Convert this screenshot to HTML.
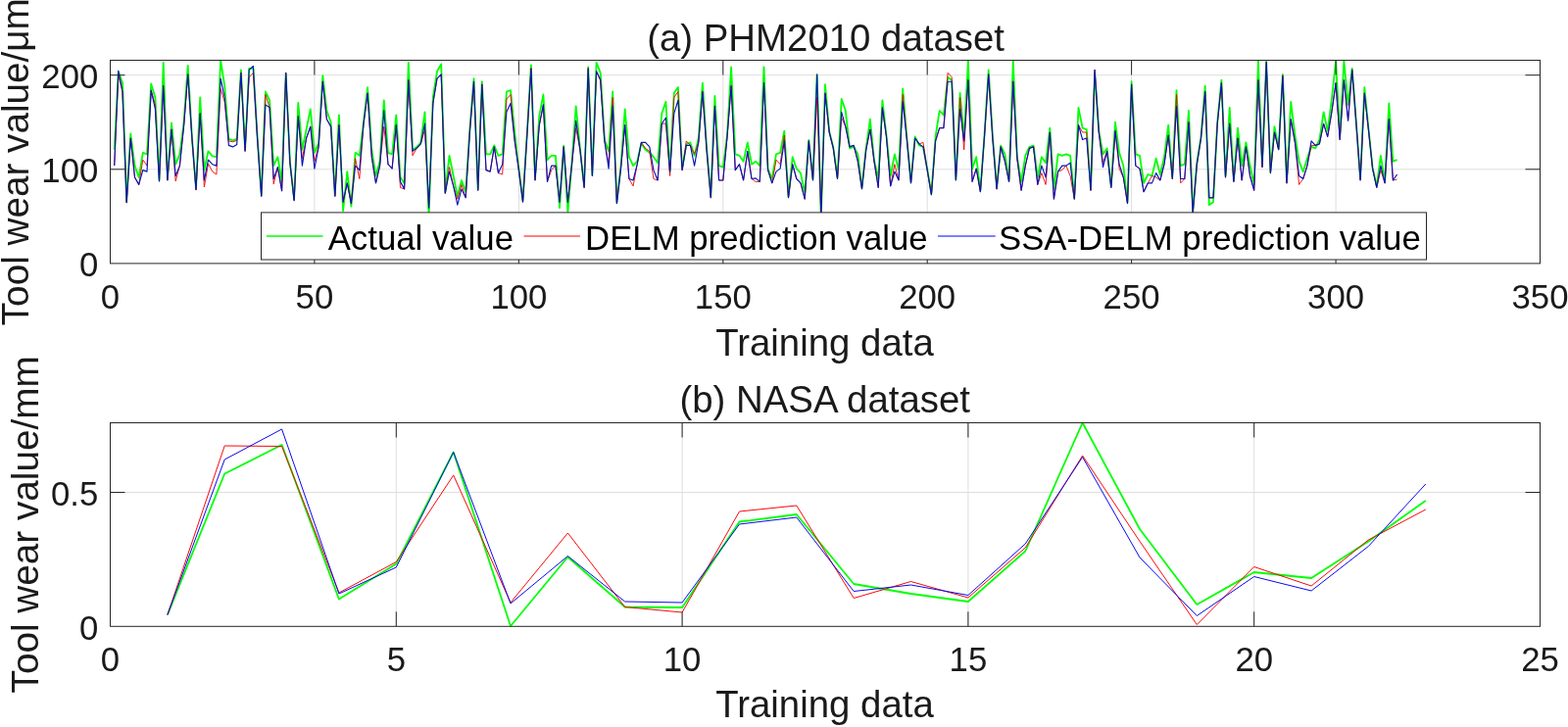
<!DOCTYPE html>
<html lang="en"><head><meta charset="utf-8"><title>Tool wear prediction</title>
<style>html,body{margin:0;padding:0;background:#fff;}body{width:1600px;height:742px;overflow:hidden;}svg{display:block;}text{font-family:"Liberation Sans",Arial,sans-serif;fill:#1a1a1a;}.t{font-size:34.75px}.l{font-size:38.4px}.k{fill:#000}.y{font-size:38.7px}</style></head><body>
<svg width="1600" height="742" viewBox="0 0 1600 742">
<rect width="1600" height="742" fill="#fff"/>
<defs><clipPath id="ct"><rect x="112.5" y="61.5" width="1459.0" height="207.39999999999998"/></clipPath><clipPath id="cb"><rect x="112.5" y="431.0" width="1459.0" height="208.79999999999995"/></clipPath></defs>
<line x1="320.9" y1="61.5" x2="320.9" y2="268.9" stroke="#dedede" stroke-width="1"/>
<line x1="529.4" y1="61.5" x2="529.4" y2="268.9" stroke="#dedede" stroke-width="1"/>
<line x1="737.8" y1="61.5" x2="737.8" y2="268.9" stroke="#dedede" stroke-width="1"/>
<line x1="946.2" y1="61.5" x2="946.2" y2="268.9" stroke="#dedede" stroke-width="1"/>
<line x1="1154.6" y1="61.5" x2="1154.6" y2="268.9" stroke="#dedede" stroke-width="1"/>
<line x1="1363.1" y1="61.5" x2="1363.1" y2="268.9" stroke="#dedede" stroke-width="1"/>
<line x1="112.5" y1="172.8" x2="1571.5" y2="172.8" stroke="#dedede" stroke-width="1"/>
<line x1="112.5" y1="76.7" x2="1571.5" y2="76.7" stroke="#dedede" stroke-width="1"/>
<polyline clip-path="url(#ct)" fill="none" stroke="#00ff00" stroke-width="1.8" stroke-linejoin="round" points="116.7,152.8 120.8,73.4 125.0,84.6 129.2,205.6 133.3,136.5 137.5,169.1 141.7,181.0 145.8,155.8 150.0,157.3 154.2,85.5 158.4,99.5 162.5,183.7 166.7,63.9 170.9,182.8 175.0,125.3 179.2,167.7 183.4,157.3 187.5,126.2 191.7,66.9 195.9,139.8 200.0,192.6 204.2,99.5 208.4,173.6 212.5,154.3 216.7,159.4 220.9,160.2 225.1,61.5 229.2,87.6 233.4,141.9 237.6,143.3 241.7,141.9 245.9,71.3 250.1,152.8 254.2,69.8 258.4,69.8 262.6,139.8 266.7,199.1 270.9,93.5 275.1,102.4 279.2,169.1 283.4,160.2 287.6,185.4 291.7,75.2 295.9,165.0 300.1,203.5 304.3,104.8 308.4,152.8 312.6,132.1 316.8,111.3 320.9,155.8 325.1,146.3 329.3,77.2 333.4,112.8 337.6,124.7 341.8,199.1 345.9,117.3 350.1,215.1 354.3,175.1 358.4,210.6 362.6,155.8 366.8,158.8 371.0,124.7 375.1,89.1 379.3,152.8 383.5,179.5 387.6,164.7 391.8,102.4 396.0,155.8 400.1,157.3 404.3,117.3 408.5,181.0 412.6,186.9 416.8,63.9 421.0,153.1 425.1,150.2 429.3,145.7 433.5,114.3 437.6,221.0 441.8,99.5 446.0,72.8 450.2,65.4 454.3,196.1 458.5,158.8 462.7,179.5 466.8,200.3 471.0,184.0 475.2,195.8 479.3,133.9 483.5,80.2 487.7,193.2 491.8,83.2 496.0,157.3 500.2,157.3 504.3,148.4 508.5,158.8 512.7,157.3 516.9,93.5 521.0,92.1 525.2,135.0 529.4,172.4 533.5,205.0 537.7,138.3 541.9,66.3 546.0,182.8 550.2,118.7 554.4,96.5 558.5,163.2 562.7,158.8 566.9,158.8 571.0,212.1 575.2,148.7 579.4,216.6 583.5,166.5 587.7,108.4 591.9,151.6 596.1,190.2 600.2,68.3 604.4,178.3 608.6,63.9 612.7,74.3 616.9,142.8 621.1,154.3 625.2,93.5 629.4,206.5 633.6,169.4 637.7,111.3 641.9,160.2 646.1,169.1 650.2,164.7 654.4,146.3 658.6,152.8 662.8,155.8 666.9,160.2 671.1,166.2 675.3,115.8 679.4,103.9 683.6,173.9 687.8,95.0 691.9,89.1 696.1,172.4 700.3,147.2 704.4,145.4 708.6,158.8 712.8,141.0 716.9,84.6 721.1,151.6 725.3,200.6 729.4,98.0 733.6,169.1 737.8,170.6 742.0,138.3 746.1,68.3 750.3,157.3 754.5,158.8 758.6,164.7 762.8,145.4 767.0,167.7 771.1,164.7 775.3,169.1 779.5,68.3 783.6,172.4 787.8,182.5 792.0,157.3 796.1,155.8 800.3,133.6 804.5,200.6 808.7,160.2 812.8,172.1 817.0,176.6 821.2,197.3 825.3,142.8 829.5,182.8 833.7,76.3 837.8,222.8 842.0,86.1 846.2,133.9 850.3,150.2 854.5,181.3 858.7,101.0 862.8,112.8 867.0,151.4 871.2,149.9 875.3,157.3 879.5,191.7 883.7,151.6 887.9,121.7 892.0,163.5 896.2,182.5 900.4,102.4 904.5,138.3 908.7,179.5 912.9,157.3 917.0,173.6 921.2,90.6 925.4,141.3 929.5,185.7 933.7,139.5 937.9,148.4 942.0,149.9 946.2,172.4 950.4,197.6 954.6,139.5 958.7,112.8 962.9,117.3 967.1,78.7 971.2,81.7 975.4,182.8 979.6,95.0 983.7,141.0 987.9,62.4 992.1,172.1 996.2,160.2 1000.4,194.6 1004.6,136.8 1008.7,71.3 1012.9,139.8 1017.1,191.7 1021.2,148.7 1025.4,157.3 1029.6,184.3 1033.8,62.4 1037.9,160.5 1042.1,185.4 1046.3,158.8 1050.4,149.9 1054.6,148.7 1058.8,181.0 1062.9,160.2 1067.1,166.2 1071.3,130.6 1075.4,192.9 1079.6,157.3 1083.8,158.8 1087.9,157.3 1092.1,158.8 1096.3,202.1 1100.5,109.8 1104.6,130.6 1108.8,132.1 1113.0,193.2 1117.1,74.3 1121.3,133.9 1125.5,157.3 1129.6,151.4 1133.8,190.2 1138.0,124.7 1142.1,155.8 1146.3,169.1 1150.5,206.5 1154.6,83.2 1158.8,157.3 1163.0,158.8 1167.1,186.9 1171.3,178.0 1175.5,179.5 1179.7,161.7 1183.8,178.0 1188.0,160.2 1192.2,127.6 1196.3,181.3 1200.5,92.1 1204.7,169.1 1208.8,167.7 1213.0,112.8 1217.2,216.3 1221.3,166.5 1225.5,139.8 1229.7,87.6 1233.8,209.2 1238.0,206.2 1242.2,125.0 1246.4,81.7 1250.5,179.8 1254.7,109.8 1258.9,184.3 1263.0,130.6 1267.2,169.1 1271.4,145.4 1275.5,169.1 1279.7,188.4 1283.9,62.4 1288.0,169.4 1292.2,62.1 1296.4,175.4 1300.5,129.1 1304.7,151.6 1308.9,76.0 1313.0,185.7 1317.2,103.9 1321.4,138.0 1325.6,164.7 1329.7,175.1 1333.9,161.7 1338.1,149.9 1342.2,151.4 1346.4,142.5 1350.6,114.3 1354.7,133.6 1358.9,101.0 1363.1,62.4 1367.2,138.0 1371.4,62.4 1375.6,106.9 1379.7,69.8 1383.9,125.0 1388.1,182.8 1392.3,89.1 1396.4,130.9 1400.6,170.9 1404.8,190.2 1408.9,158.8 1413.1,185.7 1417.3,105.4 1421.4,164.7 1425.6,163.2"/>
<polyline clip-path="url(#ct)" fill="none" stroke="#f00000" stroke-width="0.9" stroke-linejoin="round" points="116.7,169.1 120.8,77.2 125.0,93.5 129.2,206.8 133.3,141.0 137.5,181.0 141.7,188.4 145.8,163.2 150.0,169.1 154.2,92.1 158.4,106.9 162.5,184.9 166.7,87.6 170.9,184.0 175.0,132.1 179.2,184.9 183.4,169.1 187.5,129.1 191.7,75.8 195.9,141.0 200.0,193.7 204.2,115.8 208.4,190.8 212.5,167.1 216.7,175.1 220.9,178.0 225.1,90.6 229.2,103.9 233.4,143.9 237.6,144.8 241.7,143.3 245.9,74.3 250.1,154.3 254.2,78.7 258.4,74.3 262.6,141.0 266.7,200.3 270.9,96.5 275.1,109.8 279.2,187.8 283.4,170.6 287.6,194.9 291.7,74.3 295.9,166.2 300.1,204.7 304.3,118.7 308.4,161.7 312.6,141.0 316.8,129.1 320.9,164.7 325.1,149.9 329.3,83.2 333.4,121.7 337.6,129.1 341.8,200.3 345.9,127.6 350.1,206.2 354.3,186.9 358.4,207.7 362.6,161.7 366.8,182.5 371.0,126.2 375.1,95.0 379.3,160.2 383.5,186.9 387.6,169.1 391.8,129.1 396.0,167.7 400.1,172.1 404.3,127.6 408.5,191.4 412.6,192.9 416.8,81.7 421.0,158.8 425.1,151.4 429.3,146.9 433.5,132.1 437.6,212.1 441.8,105.4 446.0,80.2 450.2,75.8 454.3,197.3 458.5,170.6 462.7,189.9 466.8,203.2 471.0,188.4 475.2,201.8 479.3,135.0 483.5,83.2 487.7,194.3 491.8,86.1 496.0,173.6 500.2,175.1 504.3,149.9 508.5,176.6 512.7,178.0 516.9,101.0 521.0,96.5 525.2,143.9 529.4,173.6 533.5,206.2 537.7,139.5 541.9,69.8 546.0,184.0 550.2,128.5 554.4,106.9 558.5,185.4 562.7,173.6 566.9,169.1 571.0,206.2 575.2,149.9 579.4,206.2 583.5,167.7 587.7,130.6 591.9,152.8 596.1,191.4 600.2,69.8 604.4,179.5 608.6,72.8 612.7,81.7 616.9,143.9 621.1,167.7 625.2,99.5 629.4,207.7 633.6,170.6 637.7,127.6 641.9,182.5 646.1,189.9 650.2,167.7 654.4,145.4 658.6,151.4 662.8,154.3 666.9,182.5 671.1,184.0 675.3,126.2 679.4,126.2 683.6,179.5 687.8,99.5 691.9,93.5 696.1,173.6 700.3,143.9 704.4,148.4 708.6,157.3 712.8,145.4 716.9,93.5 721.1,152.8 725.3,201.8 729.4,108.4 733.6,184.0 737.8,184.0 742.0,139.5 746.1,87.6 750.3,173.6 754.5,167.7 758.6,184.0 762.8,154.3 767.0,182.5 771.1,185.4 775.3,185.4 779.5,84.6 783.6,173.6 787.8,186.9 792.0,163.2 796.1,167.7 800.3,138.0 804.5,201.8 808.7,167.7 812.8,182.5 817.0,186.9 821.2,203.2 825.3,143.9 829.5,184.0 833.7,99.5 837.8,219.5 842.0,95.0 846.2,135.0 850.3,151.4 854.5,182.5 858.7,120.2 862.8,129.1 867.0,149.9 871.2,148.4 875.3,164.7 879.5,192.9 883.7,152.8 887.9,132.1 892.0,164.7 896.2,191.4 900.4,109.8 904.5,139.5 908.7,189.9 912.9,167.7 917.0,184.0 921.2,96.5 925.4,142.5 929.5,186.9 933.7,141.0 937.9,146.9 942.0,145.4 946.2,173.6 950.4,198.8 954.6,143.9 958.7,130.6 962.9,130.6 967.1,74.3 971.2,78.7 975.4,184.0 979.6,99.5 983.7,152.8 987.9,81.7 992.1,185.4 996.2,172.1 1000.4,195.8 1004.6,138.0 1008.7,75.8 1012.9,141.0 1017.1,192.9 1021.2,149.9 1025.4,164.7 1029.6,185.4 1033.8,83.2 1037.9,161.7 1042.1,194.3 1046.3,169.1 1050.4,151.4 1054.6,149.9 1058.8,188.4 1062.9,176.6 1067.1,188.4 1071.3,135.0 1075.4,203.2 1079.6,175.1 1083.8,173.6 1087.9,169.1 1092.1,179.5 1096.3,203.2 1100.5,127.6 1104.6,135.0 1108.8,135.0 1113.0,194.3 1117.1,71.3 1121.3,135.0 1125.5,166.2 1129.6,154.3 1133.8,191.4 1138.0,133.6 1142.1,172.1 1146.3,181.0 1150.5,207.7 1154.6,86.1 1158.8,169.1 1163.0,172.1 1167.1,195.8 1171.3,186.9 1175.5,179.5 1179.7,181.0 1183.8,184.0 1188.0,167.7 1192.2,138.0 1196.3,182.5 1200.5,96.5 1204.7,186.9 1208.8,182.5 1213.0,124.7 1217.2,217.5 1221.3,167.7 1225.5,141.0 1229.7,93.5 1233.8,201.8 1238.0,201.8 1242.2,126.2 1246.4,84.6 1250.5,181.0 1254.7,126.2 1258.9,185.4 1263.0,141.0 1267.2,184.0 1271.4,149.9 1275.5,179.5 1279.7,194.3 1283.9,81.7 1288.0,170.6 1292.2,63.3 1296.4,176.6 1300.5,135.0 1304.7,152.8 1308.9,77.2 1313.0,186.9 1317.2,121.7 1321.4,145.4 1325.6,188.4 1329.7,182.5 1333.9,169.1 1338.1,148.4 1342.2,148.4 1346.4,146.9 1350.6,126.2 1354.7,139.5 1358.9,114.3 1363.1,84.6 1367.2,142.5 1371.4,81.7 1375.6,123.2 1379.7,71.3 1383.9,126.2 1388.1,184.0 1392.3,95.0 1396.4,132.1 1400.6,172.1 1404.8,191.4 1408.9,173.6 1413.1,186.9 1417.3,121.7 1421.4,184.0 1425.6,183.1"/>
<polyline clip-path="url(#ct)" fill="none" stroke="#0414b8" stroke-width="1.15" stroke-linejoin="round" points="116.7,169.1 120.8,72.2 125.0,93.5 129.2,206.8 133.3,141.0 137.5,181.0 141.7,188.4 145.8,173.6 150.0,175.1 154.2,92.1 158.4,111.3 162.5,184.9 166.7,87.6 170.9,184.0 175.0,132.1 179.2,179.5 183.4,169.1 187.5,129.1 191.7,75.8 195.9,141.0 200.0,193.7 204.2,115.8 208.4,184.0 212.5,163.2 216.7,167.7 220.9,169.1 225.1,80.2 229.2,99.5 233.4,148.4 237.6,149.9 241.7,147.5 245.9,74.3 250.1,154.3 254.2,71.3 258.4,67.5 262.6,141.0 266.7,200.3 270.9,106.9 275.1,109.8 279.2,182.5 283.4,170.6 287.6,194.9 291.7,74.3 295.9,166.2 300.1,204.7 304.3,118.7 308.4,169.1 312.6,141.0 316.8,129.1 320.9,172.1 325.1,149.9 329.3,83.2 333.4,121.7 337.6,129.1 341.8,200.3 345.9,127.6 350.1,206.2 354.3,186.9 358.4,207.7 362.6,169.1 366.8,173.6 371.0,126.2 375.1,95.0 379.3,160.2 383.5,186.9 387.6,169.1 391.8,112.8 396.0,167.7 400.1,172.1 404.3,127.6 408.5,185.4 412.6,192.9 416.8,81.7 421.0,154.3 425.1,151.4 429.3,146.9 433.5,126.2 437.6,212.1 441.8,105.4 446.0,80.2 450.2,75.8 454.3,197.3 458.5,175.1 462.7,189.9 466.8,209.2 471.0,192.9 475.2,201.8 479.3,135.0 483.5,83.2 487.7,194.3 491.8,86.1 496.0,173.6 500.2,175.1 504.3,149.9 508.5,176.6 512.7,167.7 516.9,114.3 521.0,105.4 525.2,143.9 529.4,173.6 533.5,206.2 537.7,139.5 541.9,69.8 546.0,184.0 550.2,128.5 554.4,106.9 558.5,185.4 562.7,169.1 566.9,169.1 571.0,206.2 575.2,149.9 579.4,206.2 583.5,167.7 587.7,123.2 591.9,152.8 596.1,191.4 600.2,69.8 604.4,179.5 608.6,72.8 612.7,81.7 616.9,143.9 621.1,172.1 625.2,108.4 629.4,207.7 633.6,170.6 637.7,127.6 641.9,182.5 646.1,184.0 650.2,167.7 654.4,145.4 658.6,145.4 662.8,149.9 666.9,173.6 671.1,184.0 675.3,126.2 679.4,120.2 683.6,175.1 687.8,115.8 691.9,102.4 696.1,173.6 700.3,148.4 704.4,148.4 708.6,169.1 712.8,145.4 716.9,93.5 721.1,152.8 725.3,201.8 729.4,108.4 733.6,184.0 737.8,184.0 742.0,139.5 746.1,87.6 750.3,173.6 754.5,167.7 758.6,184.0 762.8,154.3 767.0,182.5 771.1,181.9 775.3,185.4 779.5,84.6 783.6,173.6 787.8,186.9 792.0,175.1 796.1,172.1 800.3,143.9 804.5,201.8 808.7,167.7 812.8,182.5 817.0,186.9 821.2,203.2 825.3,143.9 829.5,184.0 833.7,75.8 837.8,219.5 842.0,95.0 846.2,135.0 850.3,151.4 854.5,182.5 858.7,114.3 862.8,129.1 867.0,149.9 871.2,148.4 875.3,164.7 879.5,192.9 883.7,152.8 887.9,132.1 892.0,164.7 896.2,191.4 900.4,109.8 904.5,139.5 908.7,189.9 912.9,175.1 917.0,184.0 921.2,103.9 925.4,142.5 929.5,186.9 933.7,141.0 937.9,146.9 942.0,149.9 946.2,173.6 950.4,198.8 954.6,143.9 958.7,130.6 962.9,130.6 967.1,83.2 971.2,83.2 975.4,184.0 979.6,111.3 983.7,143.9 987.9,81.7 992.1,185.4 996.2,172.1 1000.4,195.8 1004.6,138.0 1008.7,75.8 1012.9,141.0 1017.1,192.9 1021.2,149.9 1025.4,164.7 1029.6,185.4 1033.8,83.2 1037.9,161.7 1042.1,194.3 1046.3,169.1 1050.4,151.4 1054.6,149.9 1058.8,188.4 1062.9,169.1 1067.1,181.0 1071.3,135.0 1075.4,203.2 1079.6,175.1 1083.8,169.1 1087.9,169.1 1092.1,166.2 1096.3,203.2 1100.5,127.6 1104.6,142.5 1108.8,141.0 1113.0,194.3 1117.1,71.3 1121.3,135.0 1125.5,170.6 1129.6,154.3 1133.8,191.4 1138.0,133.6 1142.1,167.7 1146.3,181.0 1150.5,207.7 1154.6,86.1 1158.8,169.1 1163.0,172.1 1167.1,195.8 1171.3,186.9 1175.5,186.9 1179.7,176.6 1183.8,184.0 1188.0,167.7 1192.2,138.0 1196.3,182.5 1200.5,108.4 1204.7,182.5 1208.8,182.5 1213.0,124.7 1217.2,217.5 1221.3,167.7 1225.5,141.0 1229.7,93.5 1233.8,201.8 1238.0,201.8 1242.2,126.2 1246.4,84.6 1250.5,181.0 1254.7,126.2 1258.9,185.4 1263.0,141.0 1267.2,184.0 1271.4,149.9 1275.5,179.5 1279.7,194.3 1283.9,81.7 1288.0,170.6 1292.2,63.3 1296.4,176.6 1300.5,135.0 1304.7,152.8 1308.9,77.2 1313.0,186.9 1317.2,121.7 1321.4,145.4 1325.6,179.5 1329.7,182.5 1333.9,169.1 1338.1,143.9 1342.2,148.4 1346.4,146.9 1350.6,126.2 1354.7,139.5 1358.9,114.3 1363.1,84.6 1367.2,142.5 1371.4,81.7 1375.6,123.2 1379.7,71.3 1383.9,126.2 1388.1,184.0 1392.3,95.0 1396.4,132.1 1400.6,172.1 1404.8,191.4 1408.9,169.1 1413.1,186.9 1417.3,121.7 1421.4,184.0 1425.6,178.0"/>
<rect x="112.5" y="61.5" width="1459.0" height="207.39999999999998" fill="none" stroke="#262626" stroke-width="1"/>
<path d="M320.9 268.9 v-15 M320.9 61.5 v15" stroke="#262626" stroke-width="1" fill="none"/>
<path d="M529.4 268.9 v-15 M529.4 61.5 v15" stroke="#262626" stroke-width="1" fill="none"/>
<path d="M737.8 268.9 v-15 M737.8 61.5 v15" stroke="#262626" stroke-width="1" fill="none"/>
<path d="M946.2 268.9 v-15 M946.2 61.5 v15" stroke="#262626" stroke-width="1" fill="none"/>
<path d="M1154.6 268.9 v-15 M1154.6 61.5 v15" stroke="#262626" stroke-width="1" fill="none"/>
<path d="M1363.1 268.9 v-15 M1363.1 61.5 v15" stroke="#262626" stroke-width="1" fill="none"/>
<path d="M112.5 172.8 h15 M1571.5 172.8 h-15" stroke="#262626" stroke-width="1" fill="none"/>
<path d="M112.5 76.7 h15 M1571.5 76.7 h-15" stroke="#262626" stroke-width="1" fill="none"/>
<rect x="266.5" y="216.9" width="1189.0" height="48.099999999999994" fill="#fff" stroke="#262626" stroke-width="1"/>
<line x1="272" y1="241" x2="329.5" y2="241" stroke="#00ff00" stroke-width="1.7"/>
<text class="t k" x="334.7" y="254.7">Actual value</text>
<line x1="534.5" y1="241" x2="592" y2="241" stroke="#ff0000" stroke-width="1.1"/>
<text class="t k" x="597.1" y="254.7">DELM prediction value</text>
<line x1="957" y1="241" x2="1015.7" y2="241" stroke="#0000ff" stroke-width="1.1"/>
<text class="t k" x="1019" y="254.7">SSA-DELM prediction value</text>
<text class="t" text-anchor="middle" transform="translate(112.5 315) scale(1 1.025)">0</text>
<text class="t" text-anchor="middle" transform="translate(320.9 315) scale(1 1.025)">50</text>
<text class="t" text-anchor="middle" transform="translate(529.4 315) scale(1 1.025)">100</text>
<text class="t" text-anchor="middle" transform="translate(737.8 315) scale(1 1.025)">150</text>
<text class="t" text-anchor="middle" transform="translate(946.2 315) scale(1 1.025)">200</text>
<text class="t" text-anchor="middle" transform="translate(1154.6 315) scale(1 1.025)">250</text>
<text class="t" text-anchor="middle" transform="translate(1363.1 315) scale(1 1.025)">300</text>
<text class="t" text-anchor="middle" transform="translate(1571.5 315) scale(1 1.025)">350</text>
<text class="t" text-anchor="end" transform="translate(100.3 282.2) scale(1 1.025)">0</text>
<text class="t" text-anchor="end" transform="translate(100.3 186.1) scale(1 1.025)">100</text>
<text class="t" text-anchor="end" transform="translate(100.3 90.0) scale(1 1.025)">200</text>
<text class="l" text-anchor="middle" x="842.6" y="51.5">(a) PHM2010 dataset</text>
<text class="l" text-anchor="middle" x="841.5" y="362.5">Training data</text>
<text class="l y" text-anchor="middle" transform="translate(29 165.2) rotate(-90)">Tool wear value/μm</text>
<line x1="404.3" y1="431.5" x2="404.3" y2="639.3" stroke="#dedede" stroke-width="1"/>
<line x1="696.1" y1="431.5" x2="696.1" y2="639.3" stroke="#dedede" stroke-width="1"/>
<line x1="987.9" y1="431.5" x2="987.9" y2="639.3" stroke="#dedede" stroke-width="1"/>
<line x1="1279.7" y1="431.5" x2="1279.7" y2="639.3" stroke="#dedede" stroke-width="1"/>
<line x1="112.5" y1="502.5" x2="1571.5" y2="502.5" stroke="#dedede" stroke-width="1"/>
<polyline clip-path="url(#cb)" fill="none" stroke="#00ff00" stroke-width="1.8" stroke-linejoin="round" points="170.9,627.5 229.2,483.5 287.6,454.0 345.9,611.5 404.3,575.5 462.7,461.5 521.0,639.0 579.4,568.5 637.7,619.5 696.1,620.0 754.5,532.5 812.8,525.0 871.2,596.0 929.5,606.0 987.9,614.0 1046.3,562.5 1104.6,431.5 1163.0,540.0 1221.3,617.0 1279.7,584.0 1338.1,590.0 1396.4,552.5 1454.8,511.0"/>
<polyline clip-path="url(#cb)" fill="none" stroke="#f80808" stroke-width="1.0" stroke-linejoin="round" points="170.9,627.5 229.2,455.0 287.6,455.5 345.9,605.0 404.3,573.5 462.7,485.0 521.0,615.0 579.4,544.0 637.7,619.5 696.1,625.0 754.5,522.0 812.8,516.0 871.2,610.5 929.5,593.5 987.9,610.0 1046.3,559.0 1104.6,465.0 1163.0,552.5 1221.3,637.5 1279.7,578.5 1338.1,598.0 1396.4,551.0 1454.8,520.0"/>
<polyline clip-path="url(#cb)" fill="none" stroke="#0808f0" stroke-width="1.0" stroke-linejoin="round" points="170.9,627.5 229.2,469.0 287.6,438.0 345.9,606.0 404.3,579.0 462.7,461.5 521.0,616.0 579.4,567.5 637.7,614.0 696.1,615.0 754.5,535.0 812.8,528.0 871.2,603.5 929.5,597.0 987.9,607.5 1046.3,555.0 1104.6,466.5 1163.0,569.0 1221.3,628.5 1279.7,588.5 1338.1,603.0 1396.4,557.5 1454.8,494.0"/>
<rect x="112.5" y="431.5" width="1459.0" height="207.79999999999995" fill="none" stroke="#262626" stroke-width="1"/>
<path d="M404.3 639.3 v-15 M404.3 431.5 v15" stroke="#262626" stroke-width="1" fill="none"/>
<path d="M696.1 639.3 v-15 M696.1 431.5 v15" stroke="#262626" stroke-width="1" fill="none"/>
<path d="M987.9 639.3 v-15 M987.9 431.5 v15" stroke="#262626" stroke-width="1" fill="none"/>
<path d="M1279.7 639.3 v-15 M1279.7 431.5 v15" stroke="#262626" stroke-width="1" fill="none"/>
<path d="M112.5 502.5 h15 M1571.5 502.5 h-15" stroke="#262626" stroke-width="1" fill="none"/>
<text class="t" text-anchor="middle" transform="translate(112.5 685) scale(1 1.025)">0</text>
<text class="t" text-anchor="middle" transform="translate(404.3 685) scale(1 1.025)">5</text>
<text class="t" text-anchor="middle" transform="translate(696.1 685) scale(1 1.025)">10</text>
<text class="t" text-anchor="middle" transform="translate(987.9 685) scale(1 1.025)">15</text>
<text class="t" text-anchor="middle" transform="translate(1279.7 685) scale(1 1.025)">20</text>
<text class="t" text-anchor="middle" transform="translate(1571.5 685) scale(1 1.025)">25</text>
<text class="t" text-anchor="end" transform="translate(100.3 652.6) scale(1 1.025)">0</text>
<text class="t" text-anchor="end" transform="translate(100.3 515.8) scale(1 1.025)">0.5</text>
<text class="l" text-anchor="middle" x="841.7" y="421">(b) NASA dataset</text>
<text class="l" text-anchor="middle" x="841.5" y="732.4">Training data</text>
<text class="l y" text-anchor="middle" transform="translate(39.2 535.4) rotate(-90)">Tool wear value/mm</text>
</svg></body></html>
